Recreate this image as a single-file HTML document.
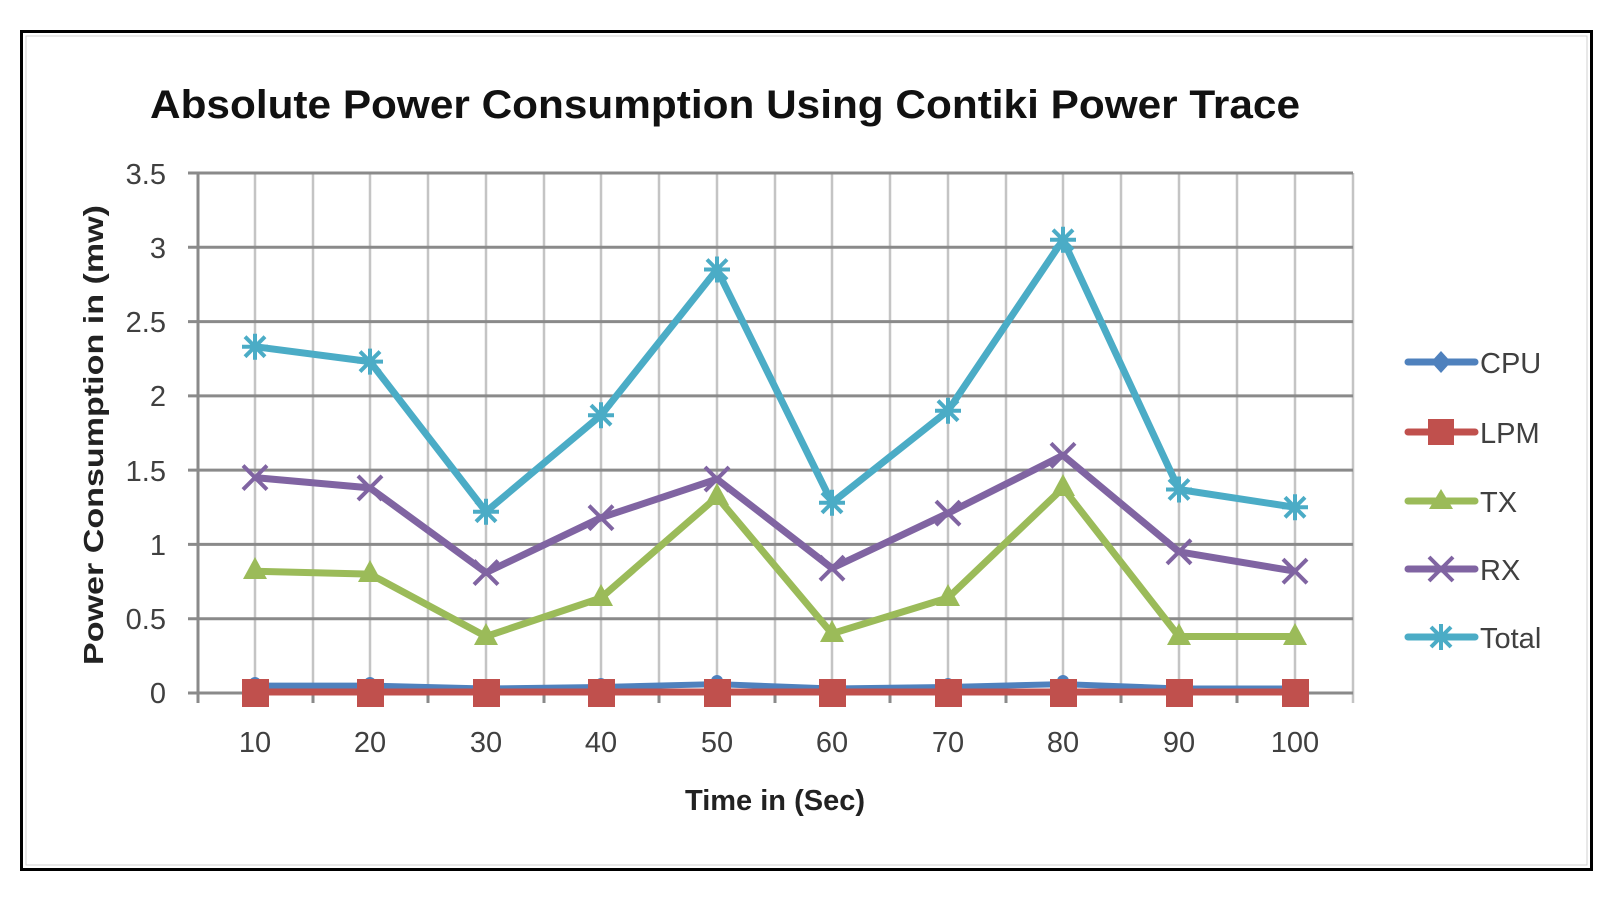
<!DOCTYPE html>
<html><head><meta charset="utf-8"><style>
html,body{margin:0;padding:0;background:#fff;}
svg{display:block;}
text{font-family:"Liberation Sans",sans-serif;}
</style></head><body>
<svg width="1615" height="899" viewBox="0 0 1615 899" xmlns="http://www.w3.org/2000/svg">
<rect x="0" y="0" width="1615" height="899" fill="#fff"/>
<rect x="21.5" y="31.5" width="1570" height="838" fill="#fff" stroke="#000" stroke-width="3"/>
<rect x="26" y="36" width="1561" height="829" fill="none" stroke="#d0d0d0" stroke-width="1"/>
<text x="725" y="118" text-anchor="middle" font-size="40" font-weight="bold" fill="#111" textLength="1150" lengthAdjust="spacingAndGlyphs">Absolute Power Consumption Using Contiki  Power Trace</text>
<g stroke="#c4c4c4" stroke-width="2.5">
<line x1="255" y1="173" x2="255" y2="693"/><line x1="370" y1="173" x2="370" y2="693"/><line x1="486" y1="173" x2="486" y2="693"/><line x1="601" y1="173" x2="601" y2="693"/><line x1="717" y1="173" x2="717" y2="693"/><line x1="832" y1="173" x2="832" y2="693"/><line x1="948" y1="173" x2="948" y2="693"/><line x1="1063" y1="173" x2="1063" y2="693"/><line x1="1179" y1="173" x2="1179" y2="693"/><line x1="1295" y1="173" x2="1295" y2="693"/>
<line x1="313" y1="173" x2="313" y2="693"/><line x1="428" y1="173" x2="428" y2="693"/><line x1="544" y1="173" x2="544" y2="693"/><line x1="659" y1="173" x2="659" y2="693"/><line x1="775" y1="173" x2="775" y2="693"/><line x1="890" y1="173" x2="890" y2="693"/><line x1="1006" y1="173" x2="1006" y2="693"/><line x1="1121" y1="173" x2="1121" y2="693"/><line x1="1237" y1="173" x2="1237" y2="693"/><line x1="1353" y1="173" x2="1353" y2="703"/>
</g>
<g stroke="#8a8a8a" stroke-width="3">
<line x1="188" y1="173" x2="1353" y2="173"/><line x1="188" y1="247.3" x2="1353" y2="247.3"/><line x1="188" y1="321.6" x2="1353" y2="321.6"/><line x1="188" y1="395.9" x2="1353" y2="395.9"/><line x1="188" y1="470.1" x2="1353" y2="470.1"/><line x1="188" y1="544.4" x2="1353" y2="544.4"/><line x1="188" y1="618.7" x2="1353" y2="618.7"/><line x1="188" y1="693" x2="1353" y2="693"/>
<line x1="198" y1="173" x2="198" y2="703"/>
<line x1="313" y1="693" x2="313" y2="703"/><line x1="428" y1="693" x2="428" y2="703"/><line x1="544" y1="693" x2="544" y2="703"/><line x1="659" y1="693" x2="659" y2="703"/><line x1="775" y1="693" x2="775" y2="703"/><line x1="890" y1="693" x2="890" y2="703"/><line x1="1006" y1="693" x2="1006" y2="703"/><line x1="1121" y1="693" x2="1121" y2="703"/><line x1="1237" y1="693" x2="1237" y2="703"/>
</g>
<g font-size="29" fill="#404040" text-anchor="end">
<text x="166" y="184">3.5</text><text x="166" y="258">3</text><text x="166" y="332">2.5</text><text x="166" y="406">2</text><text x="166" y="481">1.5</text><text x="166" y="555">1</text><text x="166" y="629">0.5</text><text x="166" y="703">0</text>
</g>
<g font-size="29" fill="#404040" text-anchor="middle">
<text x="255" y="752">10</text><text x="370" y="752">20</text><text x="486" y="752">30</text><text x="601" y="752">40</text><text x="717" y="752">50</text><text x="832" y="752">60</text><text x="948" y="752">70</text><text x="1063" y="752">80</text><text x="1179" y="752">90</text><text x="1295" y="752">100</text>
</g>
<text x="775" y="810" text-anchor="middle" font-size="29" font-weight="bold" fill="#222">Time in (Sec)</text>
<text transform="translate(103,435) rotate(-90)" text-anchor="middle" font-size="28" font-weight="bold" fill="#222" textLength="460" lengthAdjust="spacingAndGlyphs">Power Consumption   in (mw)</text>
<defs>
<g id="star"><path d="M-13 0H13M0-13V13M-10-10L10 10M-10 10L10-10" stroke="#4bacc6" stroke-width="4"/></g>
<g id="cross"><path d="M-12-12L12 12M-12 12L12-12" stroke="#8064a2" stroke-width="4"/></g>
</defs>
<polyline fill="none" stroke="#4bacc6" stroke-width="7" stroke-linejoin="round" points="255,346.7 370,361.6 486,511.7 601,415.2 717,269.5 832,502.8 948,410.7 1063,239.8 1179,489.5 1295,507.3"/>
<g><use href="#star" x="255" y="346.7"/><use href="#star" x="370" y="361.6"/><use href="#star" x="486" y="511.7"/><use href="#star" x="601" y="415.2"/><use href="#star" x="717" y="269.5"/><use href="#star" x="832" y="502.8"/><use href="#star" x="948" y="410.7"/><use href="#star" x="1063" y="239.8"/><use href="#star" x="1179" y="489.5"/><use href="#star" x="1295" y="507.3"/></g>
<polyline fill="none" stroke="#8064a2" stroke-width="7" stroke-linejoin="round" points="255,477.6 370,487.9 486,572.6 601,517.7 717,479.1 832,568.2 948,513.2 1063,455.3 1179,551.8 1295,571.2"/>
<g><use href="#cross" x="255" y="477.6"/><use href="#cross" x="370" y="487.9"/><use href="#cross" x="486" y="572.6"/><use href="#cross" x="601" y="517.7"/><use href="#cross" x="717" y="479.1"/><use href="#cross" x="832" y="568.2"/><use href="#cross" x="948" y="513.2"/><use href="#cross" x="1063" y="455.3"/><use href="#cross" x="1179" y="551.8"/><use href="#cross" x="1295" y="571.2"/></g>
<polyline fill="none" stroke="#9bbb59" stroke-width="7" stroke-linejoin="round" points="255,571.2 370,574.1 486,636.5 601,597.9 717,496.9 832,633.6 948,597.9 1063,488 1179,636.5 1295,636.5"/>
<g fill="#9bbb59"><path d="M255 557l12 22h-24z"/><path d="M370 560l12 22h-24z"/><path d="M486 623l12 22h-24z"/><path d="M601 584l12 22h-24z"/><path d="M717 483l12 22h-24z"/><path d="M832 620l12 22h-24z"/><path d="M948 584l12 22h-24z"/><path d="M1063 474l12 22h-24z"/><path d="M1179 623l12 22h-24z"/><path d="M1295 623l12 22h-24z"/></g>
<polyline fill="none" stroke="#4f81bd" stroke-width="6" points="255,685.6 370,685.6 486,688.5 601,687 717,684.1 832,688.5 948,687 1063,684.1 1179,688.5 1295,688.5"/>
<g fill="#4f81bd"><circle cx="255" cy="683" r="6"/><circle cx="370" cy="683" r="6"/><circle cx="486" cy="686" r="5"/><circle cx="601" cy="684" r="6"/><circle cx="717" cy="681" r="6"/><circle cx="832" cy="686" r="5"/><circle cx="948" cy="684" r="6"/><circle cx="1063" cy="681" r="6"/><circle cx="1179" cy="686" r="5"/><circle cx="1295" cy="686" r="5"/></g>
<line x1="255" y1="692" x2="1295" y2="692" stroke="#c0504d" stroke-width="7"/>
<g fill="#c0504d"><rect x="242" y="679" width="27" height="28"/><rect x="357" y="679" width="27" height="28"/><rect x="473" y="679" width="27" height="28"/><rect x="588" y="679" width="27" height="28"/><rect x="704" y="679" width="27" height="28"/><rect x="819" y="679" width="27" height="28"/><rect x="935" y="679" width="27" height="28"/><rect x="1050" y="679" width="27" height="28"/><rect x="1166" y="679" width="27" height="28"/><rect x="1282" y="679" width="27" height="28"/></g>
<g font-size="29" fill="#404040">
<line x1="1408" y1="362" x2="1475" y2="362" stroke="#4f81bd" stroke-width="7" stroke-linecap="round"/><path d="M1441 351l10 11-10 11-10-11z" fill="#4f81bd"/><text x="1480" y="373">CPU</text>
<line x1="1408" y1="432" x2="1475" y2="432" stroke="#c0504d" stroke-width="7" stroke-linecap="round"/><rect x="1428" y="419" width="26" height="26" fill="#c0504d"/><text x="1480" y="443">LPM</text>
<line x1="1408" y1="501" x2="1475" y2="501" stroke="#9bbb59" stroke-width="7" stroke-linecap="round"/><path d="M1441 489l12 20h-24z" fill="#9bbb59"/><text x="1480" y="512">TX</text>
<line x1="1408" y1="569" x2="1475" y2="569" stroke="#8064a2" stroke-width="7" stroke-linecap="round"/><use href="#cross" x="1441" y="569"/><text x="1480" y="580">RX</text>
<line x1="1408" y1="637" x2="1475" y2="637" stroke="#4bacc6" stroke-width="7" stroke-linecap="round"/><use href="#star" x="1441" y="637"/><text x="1480" y="648">Total</text>
</g>
</svg>
</body></html>
